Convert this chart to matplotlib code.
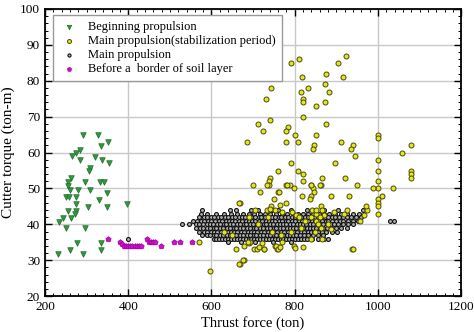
import numpy as np
import matplotlib.pyplot as plt

# ---- data ----
# beginning propulsion (green triangles)
begin_x = [291, 328, 335, 351, 283, 275, 265, 284, 320, 336, 354, 308, 305, 263, 256, 295, 333,
           342, 256, 260, 280, 308, 250, 257, 275, 350, 329, 275, 304, 350, 397, 255, 275, 271,
           262, 243, 234, 251, 295, 278, 335, 260, 335, 230, 291]
begin_y = [65, 65, 61.8, 63, 60.7, 59.8, 59, 57.9, 58.8, 58, 57, 55.8, 54.8, 52.8, 51.9, 51.9, 51.9,
           51.9, 50.7, 49.7, 49.7, 49.7, 47.7, 47.7, 47.7, 48.6, 46.8, 45.6, 44.7, 44.7, 45.7, 43.7,
           43.7, 42.8, 41.8, 41.8, 40.7, 38.9, 38.9, 34.7, 34.7, 32.8, 32.8, 31.7, 31.7]

# main propulsion, stabilization period (yellow circles)
stab_x = [924, 904, 791, 811, 818, 875, 916, 743, 833, 872, 814, 882, 732, 819, 819, 872, 850, 819,
          740, 874, 712, 724, 784, 780, 800, 850, 1000, 1000, 685, 780, 808, 912, 847, 845, 941, 934,
          1080, 944, 1057, 790, 896, 1000, 760, 808, 819, 1000, 1080, 1080, 1080, 740, 866, 920,
          739, 739, 780, 788, 820, 862, 840, 950, 1000, 1000, 989, 1037, 1000, 1000, 1000, 1000,
          799, 760, 843, 846, 818, 840, 886, 931, 750, 778, 836, 862, 743, 734, 753, 770, 794, 802,
          810, 842, 850, 866, 870, 894, 918, 926, 966, 974, 972, 958, 938, 725, 753, 761, 757, 798,
          800, 820, 721, 838, 866, 886, 679, 689, 701, 709, 713, 727, 754, 759, 764, 677, 669, 940,
          700, 734, 782, 839, 860, 717, 761, 669, 764, 741, 693, 660, 665, 676, 597, 569, 687, 665,
          825, 840, 850, 860, 848, 862, 815, 880, 852,
          690, 712, 745, 768, 790, 705, 650, 770, 630, 735, 855, 1010]
stab_y = [87, 85, 85, 86, 81, 82, 81, 78, 78, 79, 77, 77, 75, 75, 74, 74, 73, 70,
          69, 68, 68, 66, 67, 66, 65, 65, 65, 64, 63, 63, 63, 63, 62, 61, 62, 61,
          62, 59, 60, 57, 57, 58, 55, 55, 54, 55, 55, 54, 53, 53, 53, 53,
          52, 51, 51, 51, 52, 51, 51, 51, 52, 50, 50, 50, 47, 46, 45, 43,
          50, 49, 50, 49, 48, 48, 48, 48, 47, 46, 47, 45, 45, 44, 44, 43.5, 43.5, 42.6,
          42, 44, 43, 44, 42.6, 43.5, 43, 44, 42.6, 44, 45, 41, 33, 33, 34, 33.7, 33, 34,
          33.5, 33.7, 34.7, 36, 36, 38.6, 34, 34.7, 33, 33, 33.7, 33, 34, 33, 33.7, 30, 29, 33,
          51, 51, 51, 51, 51, 49, 49, 46, 45.4, 44.4, 35, 33, 29, 30, 27, 35, 35, 46,
          41, 42, 41, 42, 38, 39, 39, 40, 44,
          42, 40, 38, 37, 38, 44, 37, 35, 38, 42, 40, 48]

# main propulsion (gray circles), one list of thrust values per torque row
main_rows = {
    44: [577, 644, 660, 696, 712, 745, 760, 790, 830, 845, 870, 905, 963],
    43: [575, 590, 612, 630, 648, 661, 675, 690, 703, 716, 728, 741, 755, 770, 782, 795, 808,
         820, 833, 845, 858, 870, 883, 896, 910, 925, 941, 955],
    42: [570, 581, 589, 598, 607, 615, 623, 632, 640, 649, 656, 665, 673, 680, 689, 696, 704,
         713, 720, 729, 736, 745, 752, 761, 768, 777, 784, 793, 800, 809, 816, 825, 832, 841,
         848, 857, 864, 873, 880, 889, 896, 906, 915, 926, 936, 948, 960],
    41: [556, 566, 575, 583, 592, 600, 609, 617, 625, 634, 641, 650, 657, 666, 673, 682, 689,
         698, 705, 714, 721, 730, 737, 746, 753, 762, 769, 778, 785, 794, 801, 810, 817, 826,
         833, 842, 849, 858, 865, 874, 881, 890, 898, 908, 917, 928, 940, 952, 1030, 1038],
    40: [529, 545, 563, 571, 580, 588, 597, 604, 613, 620, 629, 636, 645, 652, 661, 668, 677,
         684, 693, 700, 709, 716, 725, 732, 741, 748, 757, 764, 773, 780, 789, 796, 805, 812,
         821, 828, 837, 844, 853, 860, 869, 877, 886, 895, 905, 916, 928, 940],
    39: [562, 572, 580, 589, 596, 605, 612, 621, 628, 637, 644, 653, 660, 669, 676, 685, 692,
         701, 708, 717, 724, 733, 740, 749, 756, 765, 772, 781, 788, 797, 804, 813, 820, 829,
         836, 845, 852, 861, 869, 878, 888, 898, 910, 925],
    38: [570, 581, 590, 598, 607, 614, 623, 630, 639, 646, 655, 662, 671, 678, 687, 694, 703,
         710, 719, 726, 735, 742, 751, 758, 767, 774, 783, 790, 799, 806, 815, 822, 831, 838,
         847, 855, 865, 876, 890, 902],
    37: [578, 588, 596, 605, 612, 621, 628, 637, 644, 653, 660, 669, 676, 685, 692, 701, 708,
         717, 724, 733, 740, 749, 756, 765, 772, 781, 788, 797, 804, 813, 822, 832, 843, 855, 868],
    36: [605, 612, 619, 626, 633, 640, 647, 654, 661, 668, 675, 682, 689, 696, 703, 710, 717,
         724, 731, 738, 745, 752, 759, 766, 773, 780, 787, 794, 801, 808, 815, 822, 830, 842,
         856, 870, 881],
    35: [640, 672, 705, 748, 790],
}
main_extra_x = [400, 1010]
main_extra_y = [36, 48]

# before a border of soil layer (magenta)
border_x = [352, 380, 386, 390, 395, 400, 405, 410, 415, 420, 425, 430, 446, 450, 455, 460, 465,
            478, 509, 525, 554]
border_y = [36, 35, 34.5, 34, 34, 34, 34, 34, 34, 34, 34, 34, 36, 35, 35, 35, 35,
            34, 35, 35, 35]

main_x = []
main_y = []
for row_y, xs in main_rows.items():
    main_x += xs
    main_y += [row_y] * len(xs)
main_x += main_extra_x
main_y += main_extra_y

plt.rcParams['font.family'] = ['Liberation Serif', 'DejaVu Serif']

fig = plt.figure(figsize=(4.74, 3.32), dpi=100)
ax = fig.add_axes([0.095, 0.108, 0.878, 0.865])

ax.scatter(main_x, main_y, s=8, marker='o', facecolor='#b0b0b0', edgecolor='#111111',
           linewidth=0.8, zorder=3, label='Main propulsion')
ax.scatter(stab_x, stab_y, s=13, marker='o', facecolor='#e6e61a', edgecolor='#4a4a10',
           linewidth=0.7, zorder=4, label='Main propulsion(stabilization period)')
ax.scatter(border_x, border_y, s=16, marker='p', facecolor='#cc10cc', edgecolor='#a000a0',
           linewidth=0.5, zorder=5, label='Before a  border of soil layer')
ax.scatter(begin_x, begin_y, s=16, marker='v', facecolor='#2f9a3c', edgecolor='#1f6a28',
           linewidth=0.5, zorder=5, label='Beginning propulsion')

ax.set_xlim(200, 1200)
ax.set_ylim(20, 100)
ax.set_xticks([200, 400, 600, 800, 1000, 1200])
ax.set_yticks([20, 30, 40, 50, 60, 70, 80, 90, 100])
ax.set_xticks(np.arange(200, 1201, 20), minor=True)
ax.set_yticks(np.arange(20, 101, 2), minor=True)
ax.tick_params(which='both', direction='in', top=True, right=True, labelsize=9.5)
ax.tick_params(which='major', length=5, width=1)
ax.tick_params(which='minor', length=2.5, width=0.7)
ax.grid(True, which='major', color='#c8c8c8', linewidth=1)
ax.set_axisbelow(True)
for sp in ax.spines.values():
    sp.set_linewidth(1.3)

ax.set_xlabel('Thrust force (ton)', fontsize=10.5, labelpad=2)
ax.set_ylabel('Cutter torque (ton-m)', fontsize=11, labelpad=4)

h, l = ax.get_legend_handles_labels()
order = [3, 1, 0, 2]
leg = ax.legend([h[i] for i in order], [l[i] for i in order], loc='upper left',
                bbox_to_anchor=(0.019, 0.979), borderaxespad=0, fontsize=9,
                fancybox=False, framealpha=1, edgecolor='#999999', labelspacing=0.15,
                handletextpad=0.8, handlelength=1.5, markerscale=0.8, borderpad=0.5)
leg.get_frame().set_linewidth(1)

fig.savefig('out.png', dpi=100)
